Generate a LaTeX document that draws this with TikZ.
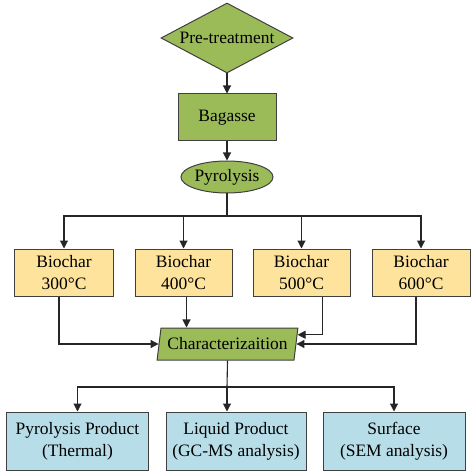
\documentclass[tikz,border=0pt]{standalone}
\usepackage{fontspec}
\setmainfont{Liberation Serif}
\usepackage{tikz}
\usetikzlibrary{shapes,arrows,positioning,calc,arrows.meta}

\definecolor{olivefill}{HTML}{9BBB59}
\definecolor{charfill}{HTML}{FEE39C}
\definecolor{testfill}{HTML}{B7DDE8}
\definecolor{edgegray}{HTML}{3F3F3F}

\begin{document}
\begin{tikzpicture}[x=1bp, y=-1bp,
    box/.style={draw=edgegray, line width=1bp, inner sep=0pt, align=center,
        font=\rmfamily\fontsize{17.5}{22}\selectfont},
    arr/.style={line width=1.1bp, draw=black!85, -{Triangle[width=8bp,length=8bp]}},
    lin/.style={line width=1.1bp, draw=black!85}]
    \useasboundingbox (0,0) rectangle (474,474);

    % Top of the chain
    \node [box, diamond, aspect=1.9, fill=olivefill, minimum width=132bp, minimum height=70bp] (pre) at (227,38) {Pre-treatment};
    \node [box, fill=olivefill, minimum width=98bp, minimum height=47bp] (bag) at (227,117.5) {Bagasse};
    \node [box, ellipse, fill=olivefill, minimum width=92bp, minimum height=32bp] (pyr) at (227,177) {Pyrolysis};

    % Biochar at four temperatures
    \node [box, fill=charfill, minimum width=98bp, minimum height=47bp] (bio300) at (64,272.5) {Biochar\\300°C};
    \node [box, fill=charfill, minimum width=97bp, minimum height=47bp] (bio400) at (183.5,272.5) {Biochar\\400°C};
    \node [box, fill=charfill, minimum width=97bp, minimum height=47bp] (bio500) at (301.5,272.5) {Biochar\\500°C};
    \node [box, fill=charfill, minimum width=98bp, minimum height=47bp] (bio600) at (421,272.5) {Biochar\\600°C};

    % Characterization
    \node [box, trapezium, trapezium left angle=74, trapezium right angle=106, trapezium stretches=true,
        fill=olivefill, minimum width=141bp, minimum height=32bp] (char) at (227.5,344) {Characterizaition};

    % Analyses
    \node [box, fill=testfill, minimum width=141bp, minimum height=58bp] (thermal) at (77.5,441) {Pyrolysis Product\\(Thermal)};
    \node [box, fill=testfill, minimum width=140bp, minimum height=58bp] (gcms) at (236,441) {Liquid Product\\(GC-MS analysis)};
    \node [box, fill=testfill, minimum width=142bp, minimum height=58bp] (sem) at (394,441) {Surface\\(SEM analysis)};

    % Connectors
    \coordinate (split1) at (227,216);
    \coordinate (split2) at (227,387);
    \draw [arr] (pre) -- (bag);
    \draw [arr] (bag) -- (pyr);
    \draw [lin] (pyr) -- (split1);
    \draw [arr] (split1) -| (bio300);
    \draw [arr] (split1) -| (bio400);
    \draw [arr] (split1) -| (bio500);
    \draw [arr] (split1) -| (bio600);

    \coordinate (in500) at ($(char.top right corner)!0.22!(char.bottom right corner)$);
    \draw [arr] ([xshift=-5bp]bio300.south) |- (char.west);
    \draw [arr] ([xshift=3bp]bio400.south) -- ([xshift=3bp]bio400.south |- char.north);
    \draw [arr] ([xshift=21bp]bio500.south) |- (in500);
    \draw [arr] ([xshift=-5bp]bio600.south) |- (char.east);

    \draw [lin] (char.south) -- (split2);
    \draw [arr] (split2) -| (thermal);
    \draw [arr] (split2) -- (split2 |- gcms.north);
    \draw [arr] (split2) -| (sem);
\end{tikzpicture}
\end{document}
